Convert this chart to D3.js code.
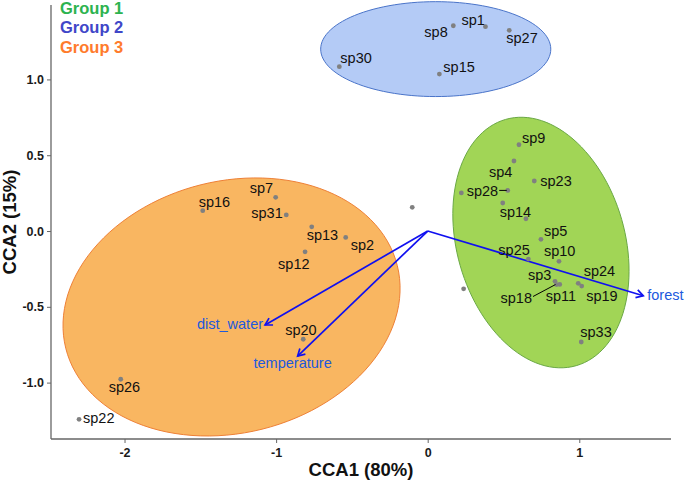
<!DOCTYPE html>
<html>
<head>
<meta charset="utf-8">
<script src="https://cdn.jsdelivr.net/npm/d3@7"></script>
<style>
  body { margin: 0; background: #fff; }
  svg { display: block; font-family: "Liberation Sans", Arial, sans-serif; }
</style>
</head>
<body>
<script>
// species scores (CCA1, CCA2); "" = point drawn without a label
const species = ["sp1","sp8","sp27","sp30","sp15",
  "sp9","sp4","sp23","sp28","","sp14","","sp5","sp25","sp10","sp3","sp11","sp18","sp24","sp19","sp33","","",
  "sp16","sp7","sp31","sp13","sp2","sp12","sp20","sp26","sp22"]
const cca1 = [0.381,0.169,0.538,-0.583,0.077,
  0.602,0.569,0.703,0.528,0.222,0.495,0.648,0.747,0.664,0.866,0.840,0.871,0.850,1.016,0.993,1.013,0.237,-0.102,
  -1.484,-1.003,-0.933,-0.765,-0.541,-0.809,-0.821,-2.025,-2.300]
const cca2 = [1.348,1.354,1.324,1.084,1.035,
  0.569,0.462,0.330,0.268,0.251,0.185,0.081,-0.055,-0.185,-0.200,-0.332,-0.352,-0.353,-0.363,-0.345,-0.732,-0.381,0.156,
  0.134,0.222,0.106,0.028,-0.042,-0.137,-0.714,-0.978,-1.242]

// label placement (px from point, text start / baseline), like ggrepel did
const labelNudge = [[-24,-2],[-29,11],[-3,13],[1,-4],[4,-2],
  [3,-2],[-25,16],[6,5],[-41,6],[0,0],[-3,14],[0,0],[3,-3],[-30,-4],[-15,-5],[-27,-1],[-14,17],[-56,18],[2,-10],[8,18],[-1,-5],[0,0],[0,0],
  [-4,-4],[-26,-4],[-35,3],[-5,13],[5,13],[-27,17],[-18,-4],[-12,13],[4,4]]
const leaders = ["sp28","sp18"]

// environmental vectors
const envVars = ["forest","dist_water","temperature"]
const envX = [1.422,-1.073,-0.858]
const envY = [-0.427,-0.620,-0.825]

// groups and their ellipses (data units, angle in degrees)
const groups = ["Group 1","Group 2","Group 3"]
const groupText = ["#2db34f","#4046c8","#ff7b2c"]
const ellCx = [0.747,0.053,-1.294]
const ellCy = [-0.076,1.200,-0.501]
const ellRx = [0.554,0.759,1.127]
const ellRy = [0.845,0.313,0.831]
const ellAngle = [16,0,14]
const ellFill = ["#a1d556","#b4cbf6","#f9b661"]
const ellStroke = ["#6aa845","#4a74c9","#ee8036"]

const xTicks = [-2,-1,0,1]
const yTicks = [-1.0,-0.5,0.0,0.5,1.0]

const W = 685, H = 482
const margin = {left: 51, top: 5, right: 14, bottom: 43}

const svg = d3.select("body").append("svg").attr("width", W).attr("height", H)

const x = d3.scaleLinear().domain([-2.485, 1.605]).range([margin.left, W - margin.right])
const y = d3.scaleLinear().domain([-1.372, 1.491]).range([H - margin.bottom, margin.top])

// ellipses
const line = d3.line().x(d => x(d[0])).y(d => y(d[1])).curve(d3.curveLinearClosed)
const ellG = svg.append("g")
groups.forEach((g, i) => {
  const th = ellAngle[i] * Math.PI / 180
  const pts = d3.range(0, 120).map(k => {
    const t = k / 120 * 2 * Math.PI
    const ex = ellRx[i] * Math.cos(t), ey = ellRy[i] * Math.sin(t)
    return [ellCx[i] + ex * Math.cos(th) - ey * Math.sin(th), ellCy[i] + ex * Math.sin(th) + ey * Math.cos(th)]
  })
  ellG.append("path").attr("d", line(pts))
    .attr("fill", ellFill[i]).attr("stroke", ellStroke[i]).attr("stroke-width", 1)
})

// axes
const xAxis = svg.append("g").attr("transform", `translate(0,${H - margin.bottom})`)
  .call(d3.axisBottom(x).tickValues(xTicks).tickFormat(d => String(d)).tickSize(4).tickPadding(5))
const yAxis = svg.append("g").attr("transform", `translate(${margin.left},0)`)
  .call(d3.axisLeft(y).tickValues(yTicks).tickFormat(d => d.toFixed(1)).tickSize(4).tickPadding(3))
yAxis.select(".domain").attr("d", `M0,${margin.top}V${H - margin.bottom}`)
xAxis.select(".domain").attr("d", `M${margin.left},0H${W - margin.right}`)
;[xAxis, yAxis].forEach(a => {
  a.select(".domain").attr("stroke", "#666").attr("stroke-width", 1.3)
  a.selectAll(".tick line").attr("stroke", "#666")
  a.selectAll(".tick text").attr("fill", "#1a1a1a").attr("font-weight", "bold")
    .attr("font-size", 12.5).attr("font-family", "Liberation Sans, Arial, sans-serif")
})

// env arrows
const arrowG = svg.append("g")
envVars.forEach((v, i) => {
  const x0 = x(0), y0 = y(0), x1 = x(envX[i]), y1 = y(envY[i])
  const ang = Math.atan2(y1 - y0, x1 - x0), L = 8, sp = Math.PI / 6
  arrowG.append("line").attr("x1", x0).attr("y1", y0).attr("x2", x1).attr("y2", y1)
    .attr("stroke", "#1010f0").attr("stroke-width", 1.7)
  arrowG.append("path")
    .attr("d", `M${x1 - L * Math.cos(ang - sp)},${y1 - L * Math.sin(ang - sp)}L${x1},${y1}L${x1 - L * Math.cos(ang + sp)},${y1 - L * Math.sin(ang + sp)}`)
    .attr("fill", "none").attr("stroke", "#1010f0").attr("stroke-width", 1.7)
})
const envLab = [[4, 4, "start"], [-2, 4, "end"], [-5, 12, "middle"]]
arrowG.selectAll("text.env").data(envVars).join("text")
  .attr("x", (d, i) => x(envX[i]) + envLab[i][0])
  .attr("y", (d, i) => y(envY[i]) + envLab[i][1])
  .attr("text-anchor", (d, i) => envLab[i][2])
  .attr("font-size", 14.5).attr("fill", "#2059dd").text(d => d)

// points
svg.append("g").selectAll("circle").data(species).join("circle")
  .attr("cx", (d, i) => x(cca1[i])).attr("cy", (d, i) => y(cca2[i]))
  .attr("r", 2.4).attr("fill", "#808080")

// labels
const labG = svg.append("g")
species.forEach((s, i) => {
  if (!s) return
  const px = x(cca1[i]), py = y(cca2[i])
  const t = labG.append("text").attr("x", px + labelNudge[i][0]).attr("y", py + labelNudge[i][1])
    .attr("font-size", 14.5).attr("fill", "#111").text(s)
  if (leaders.includes(s)) {
    const w = t.node().getComputedTextLength()
    const lx = px + labelNudge[i][0] + w + 1, ly = py + labelNudge[i][1] - 6
    labG.append("line").attr("x1", lx).attr("y1", ly).attr("x2", px - 1).attr("y2", py)
      .attr("stroke", "#000").attr("stroke-width", 1)
  }
})

// legend
svg.append("g").selectAll("text").data(groups).join("text")
  .attr("x", 60).attr("y", (d, i) => 13.5 + i * 19.5)
  .attr("font-size", 16.5).attr("font-weight", "bold")
  .attr("fill", (d, i) => groupText[i]).text(d => d)

// axis titles
svg.append("text").attr("x", (margin.left + W - margin.right) / 2).attr("y", 476)
  .attr("text-anchor", "middle").attr("font-size", 18.5).attr("font-weight", "bold")
  .attr("fill", "#111").text("CCA1 (80%)")
svg.append("text").attr("transform", `translate(15.5,${(margin.top + H - margin.bottom) / 2}) rotate(-90)`)
  .attr("text-anchor", "middle").attr("font-size", 18.5).attr("font-weight", "bold")
  .attr("fill", "#111").text("CCA2 (15%)")
</script>
</body>
</html>
